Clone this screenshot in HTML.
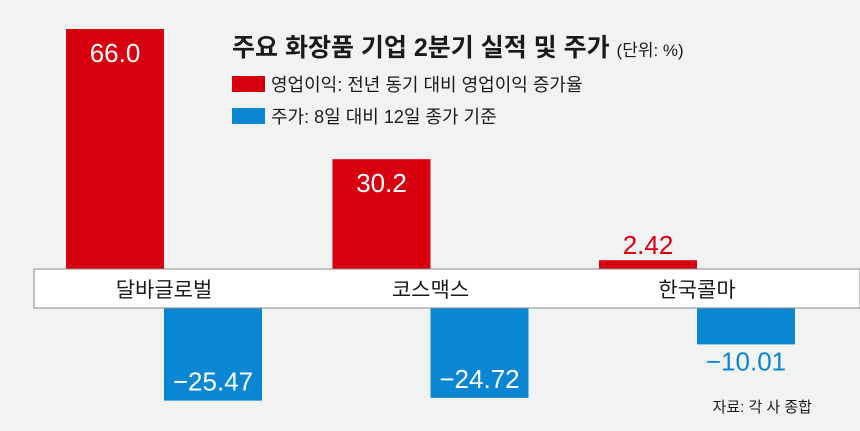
<!DOCTYPE html>
<html><head><meta charset="utf-8">
<style>
body{margin:0;background:#f1f2f2;}
svg{display:block;font-family:"Liberation Sans","Noto Sans CJK KR",sans-serif;}
</style></head>
<body>
<svg id="chart" width="860" height="431" viewBox="0 0 860 431">
<rect x="0" y="0" width="860" height="431" fill="#f1f2f2"/>
<g id="bars"></g>
<rect x="34" y="269" width="826" height="39" fill="#ffffff" stroke="#8a8a8a" stroke-width="1"/>
<g id="labels"></g>
<text x="232" y="56" font-size="25" font-weight="bold" fill="#1a1a1a">주요 화장품 기업 2분기 실적 및 주가 <tspan font-size="17" font-weight="normal">(단위: %)</tspan></text>
<rect x="232" y="76" width="33" height="16" fill="#d7000f"/>
<text x="271" y="91" font-size="18" fill="#1a1a1a">영업이익: 전년 동기 대비 영업이익 증가율</text>
<rect x="232" y="108" width="33" height="16" fill="#0a86d3"/>
<text x="271" y="123" font-size="18" fill="#1a1a1a">주가: 8일 대비 12일 종가 기준</text>
<text x="812" y="412" font-size="15" fill="#1a1a1a" text-anchor="end">자료: 각 사 종합</text>
</svg>
<script>
const categories = ["달바글로벌","코스맥스","한국콜마"];
const profitValues = [66.0, 30.2, 2.42];
const profitLabels = ["66.0","30.2","2.42"];
const stockValues = [-25.47, -24.72, -10.01];
const stockLabels = ["\u221225.47","\u221224.72","\u221210.01"];

const NS = "http://www.w3.org/2000/svg";
const zeroTop = 269, zeroBottom = 308, unit = 240/66;
const yPos = v => zeroTop - v*unit;
const yNeg = v => zeroBottom + (-v)*unit;
const groupX = i => 66 + i*266.5;
const barW = 98;
const bars = document.getElementById('bars');
const labels = document.getElementById('labels');
function mk(tag, attrs, parent){const e=document.createElementNS(NS,tag);for(const k in attrs)e.setAttribute(k,attrs[k]);parent.appendChild(e);return e;}

categories.forEach((c,i)=>{
  const x = groupX(i);
  const pv = profitValues[i], sv = stockValues[i];
  const r = mk('rect',{x:x,y:yPos(pv),width:barW,height:zeroTop-yPos(pv),fill:'#d7000f'},bars);
  
  
  const b = mk('rect',{x:x+barW,y:zeroBottom,width:barW,height:yNeg(sv)-zeroBottom,fill:'#0a86d3'},bars);
  
  
  const h = zeroTop-yPos(pv);
  const pt = mk('text',{x:x+barW/2,y: h>40 ? yPos(pv)+33 : yPos(pv)-6,'font-size':26,fill: h>40?'#ffffff':'#d7000f','text-anchor':'middle'},labels);
  pt.textContent = profitLabels[i];
  
  
  const sh = yNeg(sv)-zeroBottom;
  const st = mk('text',{x:x+barW*1.5,y: sh>50 ? yNeg(sv)-10 : yNeg(sv)+26,'font-size':26,fill: sh>50?'#ffffff':'#0a86d3','text-anchor':'middle'},labels);
  st.textContent = stockLabels[i];
  
  
  const ct = mk('text',{x:x+barW,y:297,'font-size':21,fill:'#1a1a1a','text-anchor':'middle'},labels);
  ct.textContent = c;
  
  
});
</script>
</body></html>
